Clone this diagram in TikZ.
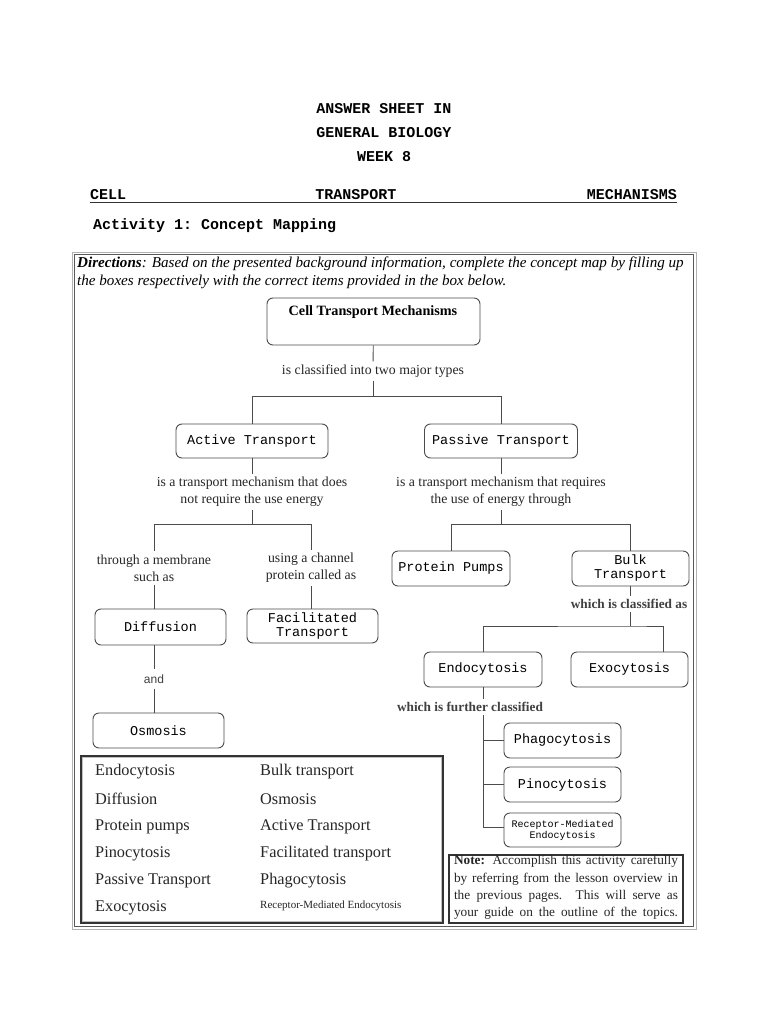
\documentclass[tikz,border=0pt]{standalone}
\usepackage{fontspec}
\setmainfont{Liberation Serif}
\setsansfont{Liberation Sans}
\setmonofont{Liberation Mono}

\begin{document}
\begin{tikzpicture}[x=1pt,y=1pt]
            \tikzstyle{every node}+=[inner sep=0pt]
            \tikzstyle{head}=[font=\fontsize{15}{18}\selectfont\ttfamily\bfseries]
            \tikzstyle{conceptbox}=[draw=black!70, line width=0.9pt, rounded corners=6pt, align=center, font=\fontsize{13.5}{14}\selectfont\ttfamily]
            \tikzstyle{linktext}=[inner sep=3pt, align=center, text=black!85, font=\fontsize{13.8}{17}\selectfont]
            \tikzstyle{boldlink}=[inner sep=3pt, align=center, text=black!75, font=\fontsize{13.3}{15}\selectfont\bfseries]
            \tikzstyle{itemtext}=[anchor=west, text=black!85, font=\fontsize{16.3}{18}\selectfont]
            \tikzstyle{link}=[draw=black!70, line width=0.9pt]
            \useasboundingbox [fill=white] (0,0) rectangle (768,-1024);
            \node [head] (hdone) at (384,-109) {ANSWER SHEET IN};
            \node [head] (hdtwo) at (384,-133) {GENERAL BIOLOGY};
            \node [head] (hdthree) at (384,-157) {WEEK 8};
            \node [head, anchor=west] (hdcell) at (90,-195) {CELL};
            \node [head] (hdtrans) at (356,-195) {TRANSPORT};
            \node [head, anchor=east] (hdmech) at (677,-195) {MECHANISMS};
            \draw [black!80, line width=0.9pt] ([yshift=-2pt]hdcell.south west) -- ([yshift=-2pt]hdmech.south east);
            \node [head, anchor=west] (activity) at (93,-226) {Activity 1: Concept Mapping};
            \draw [black!30, line width=1pt] (72,-252) rectangle (696,-929);
            \draw [black!65, line width=1pt] (74.5,-254.5) rectangle (693.5,-926.5);
            \node [anchor=west, font=\fontsize{15.1}{19}\selectfont\itshape] (dirone) at (77,-264) {\textbf{Directions}: Based on the presented background information, complete the concept map by filling up};
            \node [anchor=west, font=\fontsize{15.1}{19}\selectfont\itshape] (dirtwo) at (77,-282) {the boxes respectively with the correct items provided in the box below.};
            \node [conceptbox, minimum width=213, minimum height=47] (ctm) at (373.5,-321.5) {};
            \node [font=\fontsize{14.2}{16}\selectfont\bfseries] (ctmtext) at (373,-312) {Cell Transport Mechanisms};
            \node [linktext] (classif) at (373,-371) {is classified into two major types};
            \coordinate (barone) at (373,-396);
            \draw [link] (ctm) -- (classif);
            \draw [link] (classif) -- (barone);
            \node [conceptbox, minimum width=152, minimum height=34] (act) at (252,-441) {Active Transport};
            \node [conceptbox, minimum width=153, minimum height=34] (pas) at (501,-441) {Passive Transport};
            \draw [link] (barone) -| (act);
            \draw [link] (barone) -| (pas);
            \node [linktext] (actdesc) at (252,-492) {is a transport mechanism that does\\not require the use energy};
            \coordinate (bartwo) at (252,-524);
            \draw [link] (act) -- (actdesc);
            \draw [link] (actdesc) -- (bartwo);
            \node [linktext] (thru) at (154,-568) {through a membrane\\such as};
            \node [linktext] (chan) at (311,-568) {using a channel\\protein called as};
            \draw [link] (bartwo) -| (thru);
            \draw [link] (bartwo) -| (chan);
            \node [conceptbox, minimum width=131, minimum height=36] (dif) at (160.5,-627) {Diffusion};
            \node [conceptbox, minimum width=131, minimum height=34] (fac) at (312.5,-626) {Facilitated\\Transport};
            \draw [link] (thru) -- (thru |- dif.north);
            \draw [link] (chan) -- (chan |- fac.north);
            \node [inner sep=5pt, text=black!75, font=\fontsize{12}{14}\selectfont\sffamily] (andtxt) at (154,-679) {and};
            \node [conceptbox, minimum width=131, minimum height=35] (osm) at (158.5,-730.5) {Osmosis};
            \draw [link] (andtxt |- dif.south) -- (andtxt);
            \draw [link] (andtxt) -- (andtxt |- osm.north);
            \node [linktext] (pasdesc) at (501,-492) {is a transport mechanism that requires\\the use of energy through};
            \coordinate (barthree) at (501,-524);
            \draw [link] (pas) -- (pasdesc);
            \draw [link] (pasdesc) -- (barthree);
            \node [conceptbox, minimum width=118, minimum height=35] (pp) at (451,-568.5) {Protein Pumps};
            \node [conceptbox, minimum width=117, minimum height=35] (bulk) at (630.5,-568.5) {Bulk\\Transport};
            \draw [link] (barthree) -| (pp);
            \draw [link] (barthree) -| (bulk);
            \node [boldlink] (bulkcls) at (629,-604) {which is classified as};
            \coordinate (barfour) at (630.5,-626);
            \draw [link] (bulk) -- (bulk |- bulkcls.north);
            \draw [link] (bulk |- bulkcls.south) -- (barfour);
            \node [conceptbox, minimum width=118, minimum height=35] (endo) at (483,-669.5) {Endocytosis};
            \node [conceptbox, minimum width=117, minimum height=35] (exo) at (629.5,-669.5) {Exocytosis};
            \draw [link] (endo) |- (barfour) -| ([xshift=33.5pt]exo.north);
            \node [boldlink] (furth) at (470,-707) {which is further classified};
            \node [conceptbox, minimum width=117, minimum height=35] (pha) at (562.5,-740.5) {Phagocytosis};
            \node [conceptbox, minimum width=117, minimum height=35] (pin) at (562.5,-784.5) {Pinocytosis};
            \node [conceptbox, minimum width=117, minimum height=34, font=\fontsize{10}{11}\selectfont\ttfamily] (rme) at (562.5,-830) {Receptor-Mediated\\Endocytosis};
            \draw [link] (endo) -- (endo |- furth.north);
            \draw [link] (endo |- furth.south) |- ([yshift=3pt]rme.west);
            \draw [link] (endo |- pha) -- (pha);
            \draw [link] (endo |- pin) -- (pin);
            \node [draw=black!80, line width=1.6pt, minimum width=362, minimum height=167] (items) at (262,-839.5) {};
            \draw [black!25, line width=0.6pt] ([shift={(2.5,-2.5)}]items.north west) rectangle ([shift={(-2.5,2.5)}]items.south east);
            \node [itemtext] (itendo) at (95,-772) {Endocytosis};
            \node [itemtext] (itdiff) at (95,-799) {Diffusion};
            \node [itemtext] (itpump) at (95,-827) {Protein pumps};
            \node [itemtext] (itpino) at (95,-854) {Pinocytosis};
            \node [itemtext] (itpass) at (95,-881) {Passive Transport};
            \node [itemtext] (itexo) at (95,-908) {Exocytosis};
            \node [itemtext] (itbulk) at (260,-772) {Bulk transport};
            \node [itemtext] (itosm) at (260,-799) {Osmosis};
            \node [itemtext] (itact) at (260,-827) {Active Transport};
            \node [itemtext] (itfac) at (260,-854) {Facilitated transport};
            \node [itemtext] (itpha) at (260,-881) {Phagocytosis};
            \node [itemtext, font=\fontsize{11}{13}\selectfont] (itrme) at (260,-906) {Receptor-Mediated Endocytosis};
            \node [draw=black!80, line width=1.2pt, minimum width=234, minimum height=68] (notebox) at (566,-889) {};
            \node [text width=224, align=justify, text=black!85, font=\fontsize{13.3}{17.3}\selectfont] (notetext) at (566,-887.5) {\textbf{Note:} Accomplish this activity carefully\linebreak by referring from the lesson overview in\linebreak the previous pages. This will serve as\linebreak \makebox[224pt][s]{your guide on the outline of the topics.}};
\end{tikzpicture}
\end{document}
